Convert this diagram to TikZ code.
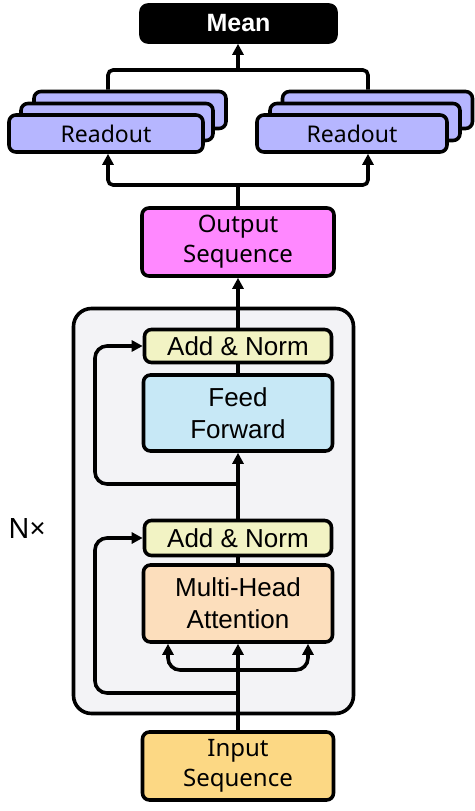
\documentclass[tikz,border=0pt]{standalone}
\usepackage{fontspec}
\setmainfont{Liberation Sans}
\newfontfamily\kfont{Noto Sans}
\usetikzlibrary{arrows.meta}
\definecolor{meanc}{RGB}{0,0,0}
\definecolor{readc}{RGB}{182,182,255}
\definecolor{outc}{RGB}{255,136,255}
\definecolor{addc}{RGB}{242,243,196}
\definecolor{ffc}{RGB}{199,232,246}
\definecolor{mhac}{RGB}{252,222,188}
\definecolor{inc}{RGB}{252,216,132}
\definecolor{nxc}{RGB}{243,243,246}
\tikzset{
  box/.style={draw=black, line width=3.6pt, rounded corners=7pt, inner sep=0pt, align=center},
  rbox/.style={box, fill=readc, minimum width=192pt, minimum height=37pt, font=\kfont\fontsize{23}{27}\selectfont},
  tbox/.style={box, font=\fontsize{26}{32}\selectfont},
  kbox/.style={box, font=\kfont\fontsize{24}{30}\selectfont},
  arr/.style={line width=3.6pt, -{Triangle[length=11pt,width=11pt]}},
  conn/.style={line width=3.6pt},
}
\begin{document}
\begin{tikzpicture}[x=1pt,y=-1pt]
\useasboundingbox (0,0) rectangle (474,811);
% Nx container
\node[draw=black, line width=3.6pt, fill=nxc, rounded corners=18pt, minimum width=280pt, minimum height=405pt, inner sep=0pt] (nx) at (213.5,511) {};
\node[font=\kfont\fontsize{28}{30}\selectfont, anchor=center] (nxl) at (27,528) {N×};
% top
\node[box, fill=meanc, text=white, minimum width=195pt, minimum height=37pt, font=\bfseries\fontsize{25}{28}\selectfont] (mean) at (238.5,23.5) {Mean};
\node[rbox] (lback) at (130,110) {};
\node[rbox] (lmid) at (117,122) {};
\node[rbox, minimum width=194pt] (lfront) at (106,133.5) {Readout};
\node[rbox, minimum width=190pt] (rback) at (377.5,110) {};
\node[rbox, minimum width=190pt] (rmid) at (365,122) {};
\node[rbox, minimum width=190pt] (rfront) at (352,133.5) {Readout};
\node[kbox, fill=outc, minimum width=192pt, minimum height=68pt] (out) at (238,242) {Output\\Sequence};
% encoder
\node[tbox, fill=addc, minimum width=187pt, minimum height=33pt] (an2) at (238,346) {Add \& Norm};
\node[tbox, fill=ffc, minimum width=189pt, minimum height=76pt] (ff) at (238,413) {Feed\\Forward};
\node[tbox, fill=addc, minimum width=187pt, minimum height=35pt] (an1) at (238,538) {Add \& Norm};
\node[tbox, fill=mhac, minimum width=189pt, minimum height=77pt] (mha) at (238,603.5) {Multi-Head\\Attention};
\node[kbox, fill=inc, minimum width=191pt, minimum height=68pt] (in) at (238,766) {Input\\Sequence};
% coordinates
\coordinate (L) at (108,0);
\coordinate (R) at (368,0);
\coordinate (jtop) at (238,70);
\coordinate (jbot) at (238,185);
\coordinate (xs) at (95,0);
\coordinate (s2) at (238,484);
\coordinate (s1) at (238,693);
\coordinate (b) at (238,670);
\coordinate (ql) at (168,0);
\coordinate (qr) at (308,0);
% top connectors
\draw[conn, rounded corners=5pt] (L |- lback.north) |- (jtop) -| (R |- rback.north);
\draw[arr] (jtop) -- (jtop |- mean.south);
\draw[conn] (out.north) -- (jbot);
\draw[arr, rounded corners=5pt] (jbot) -| (L |- lfront.south);
\draw[arr, rounded corners=5pt] (jbot) -| (R |- rfront.south);
% encoder connectors
\draw[arr] (an2.north) -- (out.south);
\draw[conn] (ff.north) -- (an2.south);
\draw[arr] (an1.north) -- (ff.south);
\draw[arr, rounded corners=12pt] (s2) -| (xs |- an2.west) -- (an2.west);
\draw[conn] (mha.north) -- (an1.south);
\draw[arr] (in.north) -- (mha.south);
\draw[arr, rounded corners=12pt] (s1) -| (xs |- an1.west) -- (an1.west);
\draw[arr, rounded corners=12pt] (b) -| (ql |- mha.south);
\draw[arr, rounded corners=12pt] (b) -| (qr |- mha.south);
\end{tikzpicture}
\end{document}
